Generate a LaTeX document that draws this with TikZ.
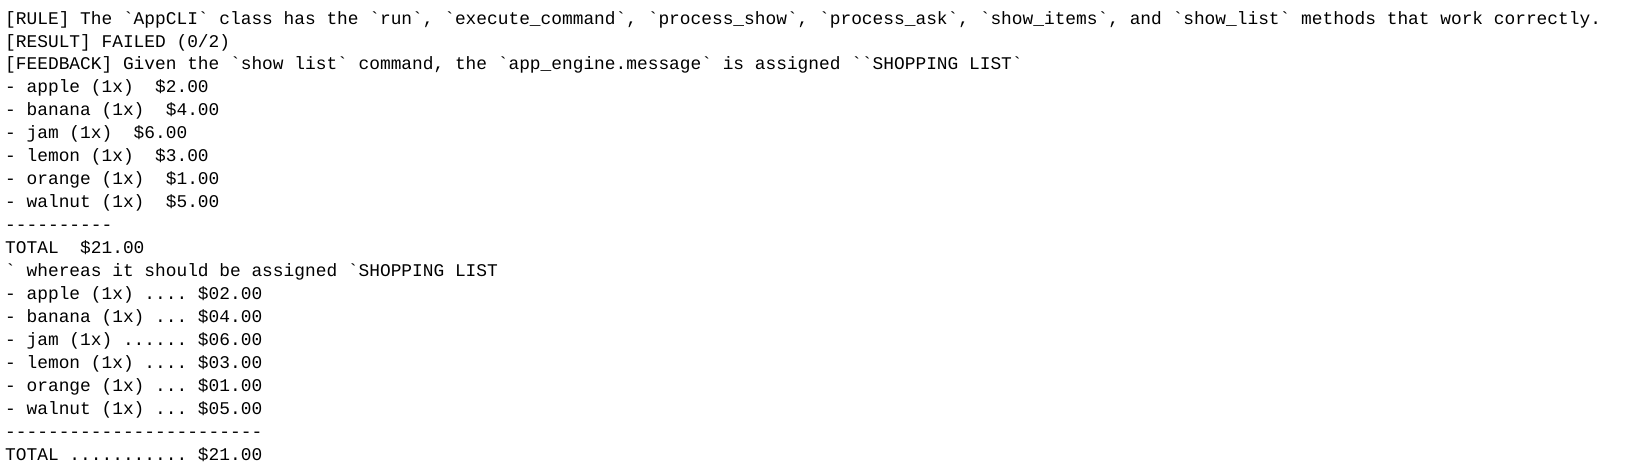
\documentclass[tikz,border=0pt]{standalone}
\usepackage{fontspec}
\setmonofont{Liberation Mono}
\begin{document}
\begin{tikzpicture}[x=1pt,y=22.95pt,ln/.style={anchor=base west,inner sep=0pt,font=\fontsize{17.85}{22}\selectfont\ttfamily}]
\useasboundingbox (0,0) rectangle (1641pt,-465pt);
\node[ln] (l1) at (5,-1.05) {[RULE] The `AppCLI` class has the `run`, `execute\_command`, `process\_show`, `process\_ask`, `show\_items`, and `show\_list` methods that work correctly.};
\node[ln] (l2) at (5,-2.05) {[RESULT] FAILED (0/2)};
\node[ln] (l3) at (5,-3.05) {[FEEDBACK] Given the `show list` command, the `app\_engine.message` is assigned ``SHOPPING LIST`};
\node[ln] (l4) at (5,-4.05) {- apple (1x)\ \ \$2.00};
\node[ln] (l5) at (5,-5.05) {- banana (1x)\ \ \$4.00};
\node[ln] (l6) at (5,-6.05) {- jam (1x)\ \ \$6.00};
\node[ln] (l7) at (5,-7.05) {- lemon (1x)\ \ \$3.00};
\node[ln] (l8) at (5,-8.05) {- orange (1x)\ \ \$1.00};
\node[ln] (l9) at (5,-9.05) {- walnut (1x)\ \ \$5.00};
\node[ln] (l10) at (5,-10.05) {----------};
\node[ln] (l11) at (5,-11.05) {TOTAL\ \ \$21.00};
\node[ln] (l12) at (5,-12.05) {` whereas it should be assigned `SHOPPING LIST};
\node[ln] (l13) at (5,-13.05) {- apple (1x) .... \$02.00};
\node[ln] (l14) at (5,-14.05) {- banana (1x) ... \$04.00};
\node[ln] (l15) at (5,-15.05) {- jam (1x) ...... \$06.00};
\node[ln] (l16) at (5,-16.05) {- lemon (1x) .... \$03.00};
\node[ln] (l17) at (5,-17.05) {- orange (1x) ... \$01.00};
\node[ln] (l18) at (5,-18.05) {- walnut (1x) ... \$05.00};
\node[ln] (l19) at (5,-19.05) {------------------------};
\node[ln] (l20) at (5,-20.05) {TOTAL ........... \$21.00};
\end{tikzpicture}
\end{document}
